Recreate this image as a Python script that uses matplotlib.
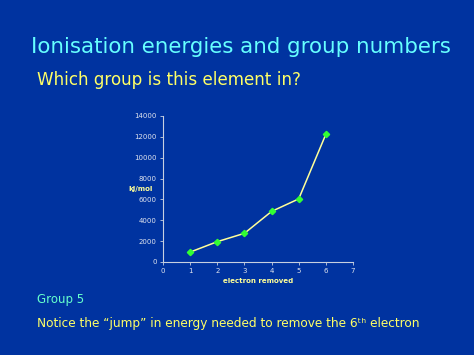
import matplotlib
matplotlib.use("Agg")
import matplotlib.pyplot as plt

# Successive ionisation energies (kJ/mol)
electrons = [1, 2, 3, 4, 5, 6]
energies = [950, 1950, 2750, 4850, 6050, 12250]
x_ticks = [0, 1, 2, 3, 4, 5, 6, 7]
y_ticks = [0, 2000, 4000, 6000, 8000, 10000, 12000, 14000]

bg = "#0033a0"
W, H = 474, 355
fig = plt.figure(figsize=(W / 100, H / 100), dpi=100, facecolor=bg)

font = "DejaVu Sans"

fig.text(241 / W, 1 - 47 / H, "Ionisation energies and group numbers",
         color="#66ffff", fontsize=15.4, ha="center", va="center", family=font)
fig.text(37 / W, 1 - 80 / H, "Which group is this element in?",
         color="#ffff66", fontsize=12.1, ha="left", va="center", family=font)
fig.text(37 / W, 1 - 299 / H, "Group 5",
         color="#66ffcc", fontsize=8.5, ha="left", va="center", family=font)
fig.text(37 / W, 1 - 323 / H,
         "Notice the \u201cjump\u201d in energy needed to remove the 6\u1d57\u02b0 electron",
         color="#ffff66", fontsize=8.7, ha="left", va="center", family=font)

ax = fig.add_axes([163 / W, 1 - 262 / H, (353 - 163) / W, (262 - 116) / H])
ax.set_facecolor(bg)
ax.plot(electrons, energies, color="#ffff99", lw=1.1, zorder=2)
ax.plot(electrons, energies, ls="none", marker="D", ms=3.2,
        color="#33ff33", mec="#33ff33", zorder=3)

ax.set_xlim(0, 7)
ax.set_ylim(0, 14000)
ax.set_xticks(x_ticks)
ax.set_yticks(y_ticks)
for s in ["top", "right"]:
    ax.spines[s].set_visible(False)
for s in ["left", "bottom"]:
    ax.spines[s].set_color("#c8d0e0")
    ax.spines[s].set_linewidth(0.8)
ax.tick_params(colors="#c8d0e0", labelsize=5, length=2.5, width=0.6, pad=2,
               direction="out")
for lbl in ax.get_xticklabels() + ax.get_yticklabels():
    lbl.set_color("#e0e4ee")

ax.set_xlabel("electron removed", color="#ffff99", fontsize=5,
              fontweight="bold", labelpad=3)
ax.set_ylabel("kJ/mol", color="#ffff99", fontsize=5, fontweight="bold",
              rotation=0, ha="center", va="center")
ax.yaxis.set_label_coords(-0.12, 0.5)

fig.savefig("out.png", dpi=100, facecolor=bg)
